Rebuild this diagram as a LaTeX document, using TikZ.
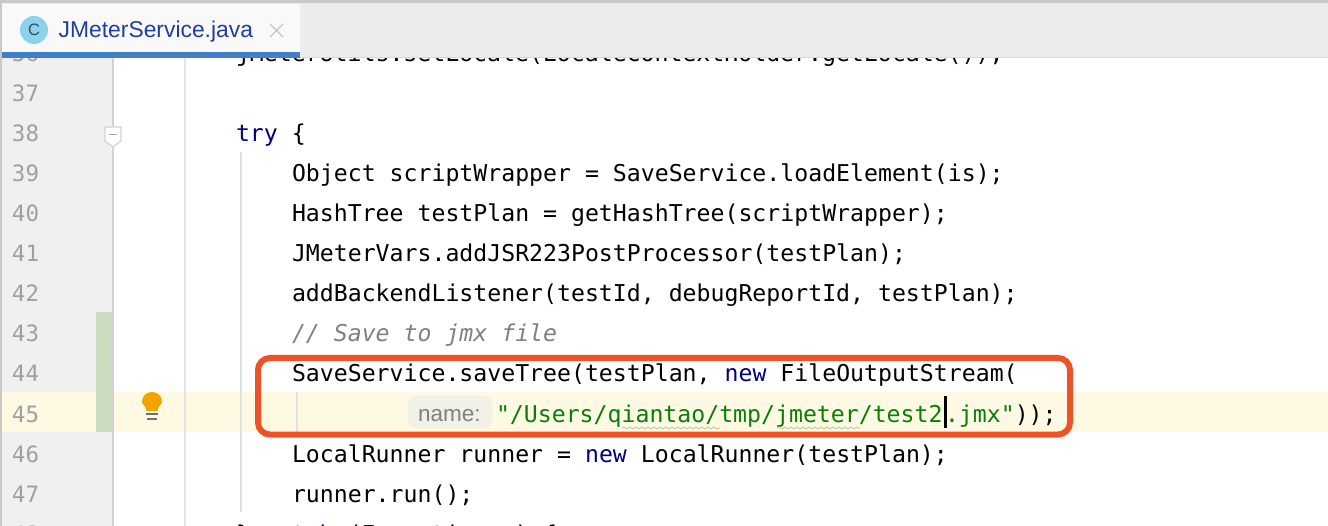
\documentclass[tikz,border=0pt]{standalone}
\usepackage{fontspec}
\setmainfont{Liberation Sans}
\newfontfamily\codefont{DejaVu Sans Mono}
\usetikzlibrary{decorations.pathmorphing}
\definecolor{kw}{HTML}{000080}
\definecolor{strc}{HTML}{0B7D0B}
\definecolor{cmt}{HTML}{808080}
\definecolor{num}{HTML}{A0A0A0}
\definecolor{gut}{HTML}{F0F0F0}
\definecolor{hl}{HTML}{FEF9E3}
\definecolor{redbox}{HTML}{F05228}
\definecolor{chg}{HTML}{C9DCC0}
\definecolor{edge}{HTML}{C8C8C8}
\definecolor{divd}{HTML}{D2D2D2}
\definecolor{guideA}{HTML}{E4E4E4}
\definecolor{guideB}{HTML}{E0E0E0}
\definecolor{foldm}{HTML}{A8A8A8}
\definecolor{pill}{HTML}{F2F1E8}
\definecolor{pilltext}{HTML}{808080}
\definecolor{wave}{HTML}{B5D6A8}
\definecolor{bulb}{HTML}{F0A400}
\definecolor{bulbl}{HTML}{6E6E6E}
\definecolor{tabbar}{HTML}{ECECEC}
\definecolor{tabbg}{HTML}{F9F9F9}
\definecolor{tabblue}{HTML}{3F80C8}
\definecolor{tabline}{HTML}{D8D8D8}
\definecolor{iconbg}{HTML}{8AD3EC}
\definecolor{icontx}{HTML}{3C4A55}
\definecolor{tabtx}{HTML}{1F3F9F}
\definecolor{closex}{HTML}{C6C6C6}
\newcommand{\kwd}[1]{\textcolor{kw}{#1}}
\tikzset{
 x=1pt,y=-1pt,
 code/.style={anchor=base west,inner sep=0pt,outer sep=0pt,font=\codefont\fontsize{23.18}{26}\selectfont,text=black},
 lnum/.style={anchor=base west,inner sep=0pt,outer sep=0pt,font=\codefont\fontsize{22.5}{26}\selectfont,text=num},
 guide/.style={draw=#1,line width=1.5pt},
 squiggle/.style={draw=wave,line width=1pt,decorate,decoration={snake,amplitude=1pt,segment length=6pt}},
}
\begin{document}
\begin{tikzpicture}
\useasboundingbox (0,0) rectangle (1328,526);
\clip (0,0) rectangle (1328,526);
\fill[white] (0,0) rectangle (1328,526);
% gutter
\fill[gut] (2,58) rectangle (113,526);
\fill[hl] (2,392) rectangle (1328,432);
\fill[chg] (96,312) rectangle (112,432);
\fill[edge] (0,0) rectangle (2,526);
\draw[guide=divd,line width=2pt] (113,58) -- (113,526);
\draw[guide=guideA] (185,58) -- (185,526);
\draw[guide=guideB] (241,152) -- (241,512);
\draw[guide=guideB] (297,392) -- (297,432);
% line numbers
\foreach \n/\yy in {36/62,37/102,38/142,39/182,40/222,41/262,42/302,43/342,44/382,45/422,46/462,47/502,48/542}{
  \node[lnum] (n\n) at (12,\yy) {\n};
}
% fold marker
\draw[draw=divd,fill=white,line width=1.2pt] (105,127) -- (121,127) -- (121,141) -- (113,147) -- (105,141) -- cycle;
\draw[draw=foldm,line width=1pt] (109,134.5) -- (117,134.5);
% code
\node[code] (l36) at (236,62) {jMeterUtils.setLocale(LocaleContextHolder.getLocale());};
\node[code] (l38) at (236,142) {\kwd{try} \{};
\node[code] (l39) at (292,182) {Object scriptWrapper = SaveService.loadElement(is);};
\node[code] (l40) at (292,222) {HashTree testPlan = getHashTree(scriptWrapper);};
\node[code] (l41) at (292,262) {JMeterVars.addJSR223PostProcessor(testPlan);};
\node[code] (l42) at (292,302) {addBackendListener(testId, debugReportId, testPlan);};
\node[code,text=cmt] (l43) at (292,342) {\itshape // Save to jmx file};
\node[code] (l44) at (292,382) {SaveService.saveTree(testPlan, \kwd{new} FileOutputStream(};
\fill[pill,rounded corners=8pt] (408,396) rectangle (492,428);
\node[anchor=base west,inner sep=0pt,font=\fontsize{22.5}{24}\selectfont,text=pilltext] (pname) at (418,421) {name:};
\node[code] (l45) at (496,422) {\textcolor{strc}{"/Users/qiantao/tmp/jmeter/test2}};
\node[code] (l45b) at (945,422) {\textcolor{strc}{.jmx"}));};
\draw[squiggle] (622,428) -- (720,428);
\draw[squiggle] (777,428) -- (860,428);
\fill[black] (944,396) rectangle (947,428);
\node[code] (l46) at (292,462) {LocalRunner runner = \kwd{new} LocalRunner(testPlan);};
\node[code] (l47) at (292,502) {runner.run();};
\node[code] (l48) at (236,542) {\} \kwd{catch} (Exception e) \{};
% bulb
\fill[bulb] (146.5,411) .. controls (146,405) and (142,405) .. (142,401.5) .. controls (142,395.5) and (147,392) .. (152,392) .. controls (157,392) and (162,395.5) .. (162,401.5) .. controls (162,405) and (158,405) .. (157.5,411) -- cycle;
\fill[bulbl] (146,413) rectangle (158,415);
\fill[bulbl] (147,418) rectangle (157,420);
% red box
\draw[draw=redbox,line width=6pt,rounded corners=12pt] (258,358) rectangle (1070,434.5);
% tab bar
\fill[tabbar] (0,0) rectangle (1328,57);
\fill[edge] (0,0) rectangle (1328,3);
\fill[edge] (0,0) rectangle (2,58);
\fill[tabbg] (2,4) rectangle (300,52);
\fill[tabblue] (2,52) rectangle (300,58);
\fill[tabline] (300,57) rectangle (1328,58);
\node[circle,fill=iconbg,minimum size=28pt,inner sep=0pt,text=icontx,font=\fontsize{16.5}{18}\selectfont] (icon) at (34,30) {C};
\node[anchor=base west,inner sep=0pt,font=\fontsize{22.85}{26}\selectfont,text=tabtx] (tab) at (58.5,38) {JMeterService.java};
\draw[draw=closex,line width=1.4pt] (270,24) -- (283,37) (283,24) -- (270,37);
\end{tikzpicture}
\end{document}
